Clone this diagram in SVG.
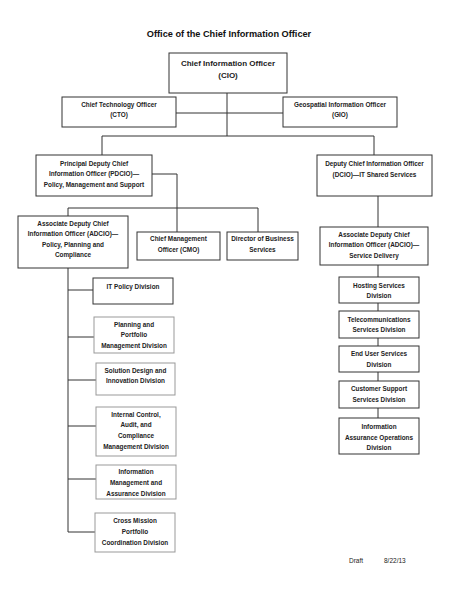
<svg xmlns="http://www.w3.org/2000/svg" width="474" height="597" viewBox="0 0 474 597">
<style>
.bx{fill:#fff;stroke:#333;stroke-width:1}
.lt{fill:#fff;stroke:#999;stroke-width:1}
.t{font-family:"Liberation Sans",Arial,sans-serif;font-weight:bold;font-size:6.4px;fill:#222;text-anchor:middle}
.big{font-size:8px}
.ttl{font-family:"Liberation Sans",Arial,sans-serif;font-weight:bold;font-size:9.2px;fill:#111;text-anchor:middle}
.ft{font-family:"Liberation Sans",Arial,sans-serif;font-size:6.5px;fill:#222}
.c{fill:none;stroke:#333;stroke-width:1}
</style>
<rect width="474" height="597" fill="#fff"/>
<text class="ttl" x="229" y="37">Office of the Chief Information Officer</text>
<g id="connectors">
<path class="c" d="M227,93V136M176,113H283M102,136H374M102,136V155M374,136V155"/>
<path class="c" d="M152,174H177V208M68,208H258M68,208V216M177,208V232M258,208V232"/>
<path class="c" d="M68,268V532H95M68,290H93M68,337H94M68,380H96M68,426H96M68,479H96"/>
<path class="c" d="M378,196V227M378,265V277M378,303V311M378,338V346M378,372V381M378,408V418"/>
</g>
<g id="cio"><rect class="bx" x="169" y="53" width="118" height="40"/>
<text class="t big" x="228" y="66.3">Chief Information Officer</text><text class="t big" x="228" y="78.3">(CIO)</text></g>
<g id="cto"><rect class="bx" x="62" y="97" width="114" height="30"/>
<text class="t" x="119" y="107.3">Chief Technology Officer</text><text class="t" x="119" y="117.3">(CTO)</text></g>
<g id="gio"><rect class="bx" x="283" y="97" width="114" height="30"/>
<text class="t" x="340" y="107.3">Geospatial Information Officer</text><text class="t" x="340" y="117.3">(GIO)</text></g>
<g id="pdcio"><rect class="bx" x="36" y="155" width="116" height="41"/>
<text class="t" x="94" y="165.6">Principal Deputy Chief</text><text class="t" x="94" y="176.3">Information Officer (PDCIO)—</text><text class="t" x="94" y="186.6">Policy, Management and Support</text></g>
<g id="dcio"><rect class="bx" x="317" y="155" width="115" height="41"/>
<text class="t" x="374.5" y="166.3">Deputy Chief Information Officer</text><text class="t" x="374.5" y="176.6">(DCIO)—IT Shared Services</text></g>
<g id="adcio-ppc"><rect class="bx" x="18" y="216" width="110" height="52"/>
<text class="t" x="73" y="225.6">Associate Deputy Chief</text><text class="t" x="73" y="235.6">Information Officer (ADCIO)—</text><text class="t" x="73" y="246.6">Policy, Planning and</text><text class="t" x="73" y="257.3">Compliance</text></g>
<g id="cmo"><rect class="bx" x="137" y="232" width="83" height="28"/>
<text class="t" x="178.5" y="240.6">Chief Management</text><text class="t" x="178.5" y="252.3">Officer (CMO)</text></g>
<g id="dbs"><rect class="bx" x="227" y="232" width="71" height="28"/>
<text class="t" x="262.5" y="240.6">Director of Business</text><text class="t" x="262.5" y="252.3">Services</text></g>
<g id="adcio-sd"><rect class="bx" x="320" y="227" width="108" height="38"/>
<text class="t" x="374" y="237.3">Associate Deputy Chief</text><text class="t" x="374" y="247.3">Information Officer (ADCIO)—</text><text class="t" x="374" y="258.3">Service Delivery</text></g>
<g id="itpolicy"><rect class="bx" x="93" y="278" width="80" height="26"/>
<text class="t" x="133" y="289">IT Policy Division</text></g>
<g id="planning"><rect class="lt" x="94" y="317" width="80" height="36"/>
<text class="t" x="134" y="326.6">Planning and</text><text class="t" x="134" y="337.3">Portfolio</text><text class="t" x="134" y="348">Management Division</text></g>
<g id="solution"><rect class="lt" x="96" y="363" width="79" height="32"/>
<text class="t" x="135.5" y="373">Solution Design and</text><text class="t" x="135.5" y="383.3">Innovation Division</text></g>
<g id="internal"><rect class="lt" x="96" y="407" width="80" height="49"/>
<text class="t" x="136" y="417.3">Internal Control,</text><text class="t" x="136" y="427.3">Audit, and</text><text class="t" x="136" y="438.3">Compliance</text><text class="t" x="136" y="449">Management Division</text></g>
<g id="infomgmt"><rect class="lt" x="96" y="465" width="80" height="34"/>
<text class="t" x="136" y="474">Information</text><text class="t" x="136" y="485">Management and</text><text class="t" x="136" y="496.3">Assurance Division</text></g>
<g id="crossmission"><rect class="lt" x="95" y="513" width="80" height="39"/>
<text class="t" x="135" y="523.3">Cross Mission</text><text class="t" x="135" y="534">Portfolio</text><text class="t" x="135" y="545">Coordination Division</text></g>
<g id="hosting"><rect class="bx" x="339" y="277" width="80" height="26"/>
<text class="t" x="379" y="288">Hosting Services</text><text class="t" x="379" y="298">Division</text></g>
<g id="telecom"><rect class="bx" x="339" y="311" width="80" height="27"/>
<text class="t" x="379" y="321.6">Telecommunications</text><text class="t" x="379" y="332.3">Services Division</text></g>
<g id="enduser"><rect class="bx" x="339" y="346" width="80" height="26"/>
<text class="t" x="379" y="356.3">End User Services</text><text class="t" x="379" y="366.6">Division</text></g>
<g id="custsupport"><rect class="bx" x="339" y="381" width="80" height="27"/>
<text class="t" x="379" y="391.3">Customer Support</text><text class="t" x="379" y="402.3">Services Division</text></g>
<g id="infoassurance"><rect class="bx" x="339" y="418" width="80" height="36"/>
<text class="t" x="379" y="429">Information</text><text class="t" x="379" y="439.6">Assurance Operations</text><text class="t" x="379" y="449.6">Division</text></g>
<text class="ft" x="349" y="563">Draft</text>
<text class="ft" x="384" y="563">8/22/13</text>
</svg>
